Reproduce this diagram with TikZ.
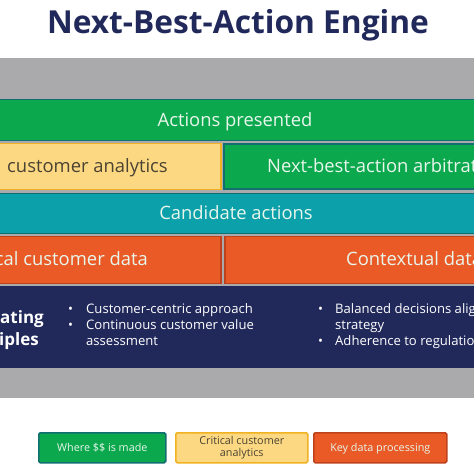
\documentclass[tikz,border=0pt]{standalone}
\usepackage{fontspec}
\setmainfont{Open Sans}
\usetikzlibrary{positioning}
\definecolor{NbaNavy}{RGB}{33, 41, 91}
\definecolor{NbaGray}{RGB}{170, 169, 172}
\definecolor{NbaGreen}{RGB}{12, 168, 78}
\definecolor{NbaTeal}{RGB}{18, 110, 112}
\definecolor{NbaCyan}{RGB}{12, 160, 170}
\definecolor{NbaYellow}{RGB}{252, 216, 130}
\definecolor{NbaGold}{RGB}{240, 178, 34}
\definecolor{NbaOrange}{RGB}{234, 90, 38}
\definecolor{NbaRust}{RGB}{190, 66, 28}
\definecolor{NbaLight}{RGB}{232, 246, 236}
\definecolor{NbaInk}{RGB}{74, 66, 50}

\begin{document}
\begin{tikzpicture}[x=1pt, y=-1pt,
    box/.style={rectangle, inner sep=0pt, line width=1.6pt, anchor=north west},
    greenbox/.style={box, fill=NbaGreen, draw=NbaTeal},
    yellowbox/.style={box, fill=NbaYellow, draw=NbaGold},
    cyanbox/.style={box, fill=NbaCyan, draw=NbaTeal},
    orangebox/.style={box, fill=NbaOrange, draw=NbaRust},
    navybox/.style={box, fill=NbaNavy, draw=none},
    keybox/.style={box, rounded corners=1.5pt, minimum width=127pt, minimum height=30pt},
    bartext/.style={inner sep=0pt, font=\fontsize{18.4}{18.4}\selectfont},
    itemtext/.style={inner sep=0pt, anchor=base west, text=white, font=\fontsize{13.1}{13.1}\selectfont},
    keytext/.style={inner sep=0pt, anchor=base, font=\fontsize{10.8}{10.8}\selectfont}
    ]
    %% Frame
    \useasboundingbox (0,0) rectangle (474,474);
    \clip (0,0) rectangle (474,474);

    %% Title
    \node[inner sep=0pt, anchor=base, text=NbaNavy, font=\fontsize{31.7}{31.7}\bfseries] (title) at (238,33) {Next-Best-Action Engine};

    %% Engine background
    \fill[NbaGray] (0,58) rectangle (474,398);

    %% Layers
    \node[greenbox, minimum width=494pt, minimum height=41pt] (presented) at (-10,98.5) {};
    \node[yellowbox, minimum width=230pt, minimum height=46pt] (analytics) at (-10,142.5) {};
    \node[greenbox, minimum width=261pt, minimum height=45pt] (arbitration) at (223,143) {};
    \node[cyanbox, minimum width=494pt, minimum height=40pt] (candidates) at (-10,192.5) {};
    \node[orangebox, minimum width=230pt, minimum height=47pt] (history) at (-10,235.5) {};
    \node[orangebox, minimum width=260pt, minimum height=47pt] (context) at (224,235.5) {};
    \node[navybox, minimum width=494pt, minimum height=82pt] (principles) at (-10,285) {};

    \node[bartext, anchor=base, text=NbaLight] (presentedlbl) at (235,126) {Actions presented};
    \node[bartext, anchor=base west, text=NbaInk] (analyticslbl) at (7,172) {customer analytics};
    \node[bartext, anchor=base west, text=NbaLight] (arbitrationlbl) at (267,172) {Next-best-action arbitrat};
    \node[bartext, anchor=base, text=NbaLight] (candidateslbl) at (236,219) {Candidate actions};
    \node[bartext, anchor=base east, text=NbaLight] (historylbl) at (148,265) {ical customer data};
    \node[bartext, anchor=base west, text=NbaLight] (contextlbl) at (346,265) {Contextual data};

    %% Operating principles
    \node[inner sep=0pt, anchor=base east, text=white, font=\fontsize{17}{17}\bfseries] (princ1) at (44,323) {ating};
    \node[inner sep=0pt, anchor=base east, text=white, font=\fontsize{17}{17}\bfseries] (princ2) at (39,345) {iples};

    \node[itemtext] (bulletA) at (68,313) {•};
    \node[itemtext] (itemA) at (86,313) {Customer-centric approach};
    \node[itemtext] (bulletB) at (68,329) {•};
    \node[itemtext] (itemB) at (86,329) {Continuous customer value};
    \node[itemtext] (itemBb) at (86,345) {assessment};
    \node[itemtext] (bulletC) at (318,313) {•};
    \node[itemtext] (itemC) at (335,313) {Balanced decisions alig};
    \node[itemtext] (itemCc) at (335,329) {strategy};
    \node[itemtext] (bulletD) at (318,345) {•};
    \node[itemtext] (itemD) at (335,345) {Adherence to regulatio};

    %% Key
    \node[keybox, fill=NbaGreen, draw=NbaTeal] (keygreen) at (38,432) {};
    \node[keybox, fill=NbaYellow, draw=NbaGold, minimum width=132pt] (keyyellow) at (175,432) {};
    \node[keybox, fill=NbaOrange, draw=NbaRust, minimum width=133pt] (keyorange) at (313,432) {};

    \node[keytext, text=NbaLight] (keygreenlbl) at (keygreen.center |- 0,451) {Where \$\$ is made};
    \node[keytext, text=NbaInk] (keyyellowlbl) at (keyyellow.center |- 0,444) {Critical customer};
    \node[keytext, text=NbaInk] (keyyellowlbl2) at (keyyellow.center |- 0,456) {analytics};
    \node[keytext, text=NbaLight] (keyorangelbl) at (keyorange.center |- 0,451) {Key data processing};
\end{tikzpicture}
\end{document}
